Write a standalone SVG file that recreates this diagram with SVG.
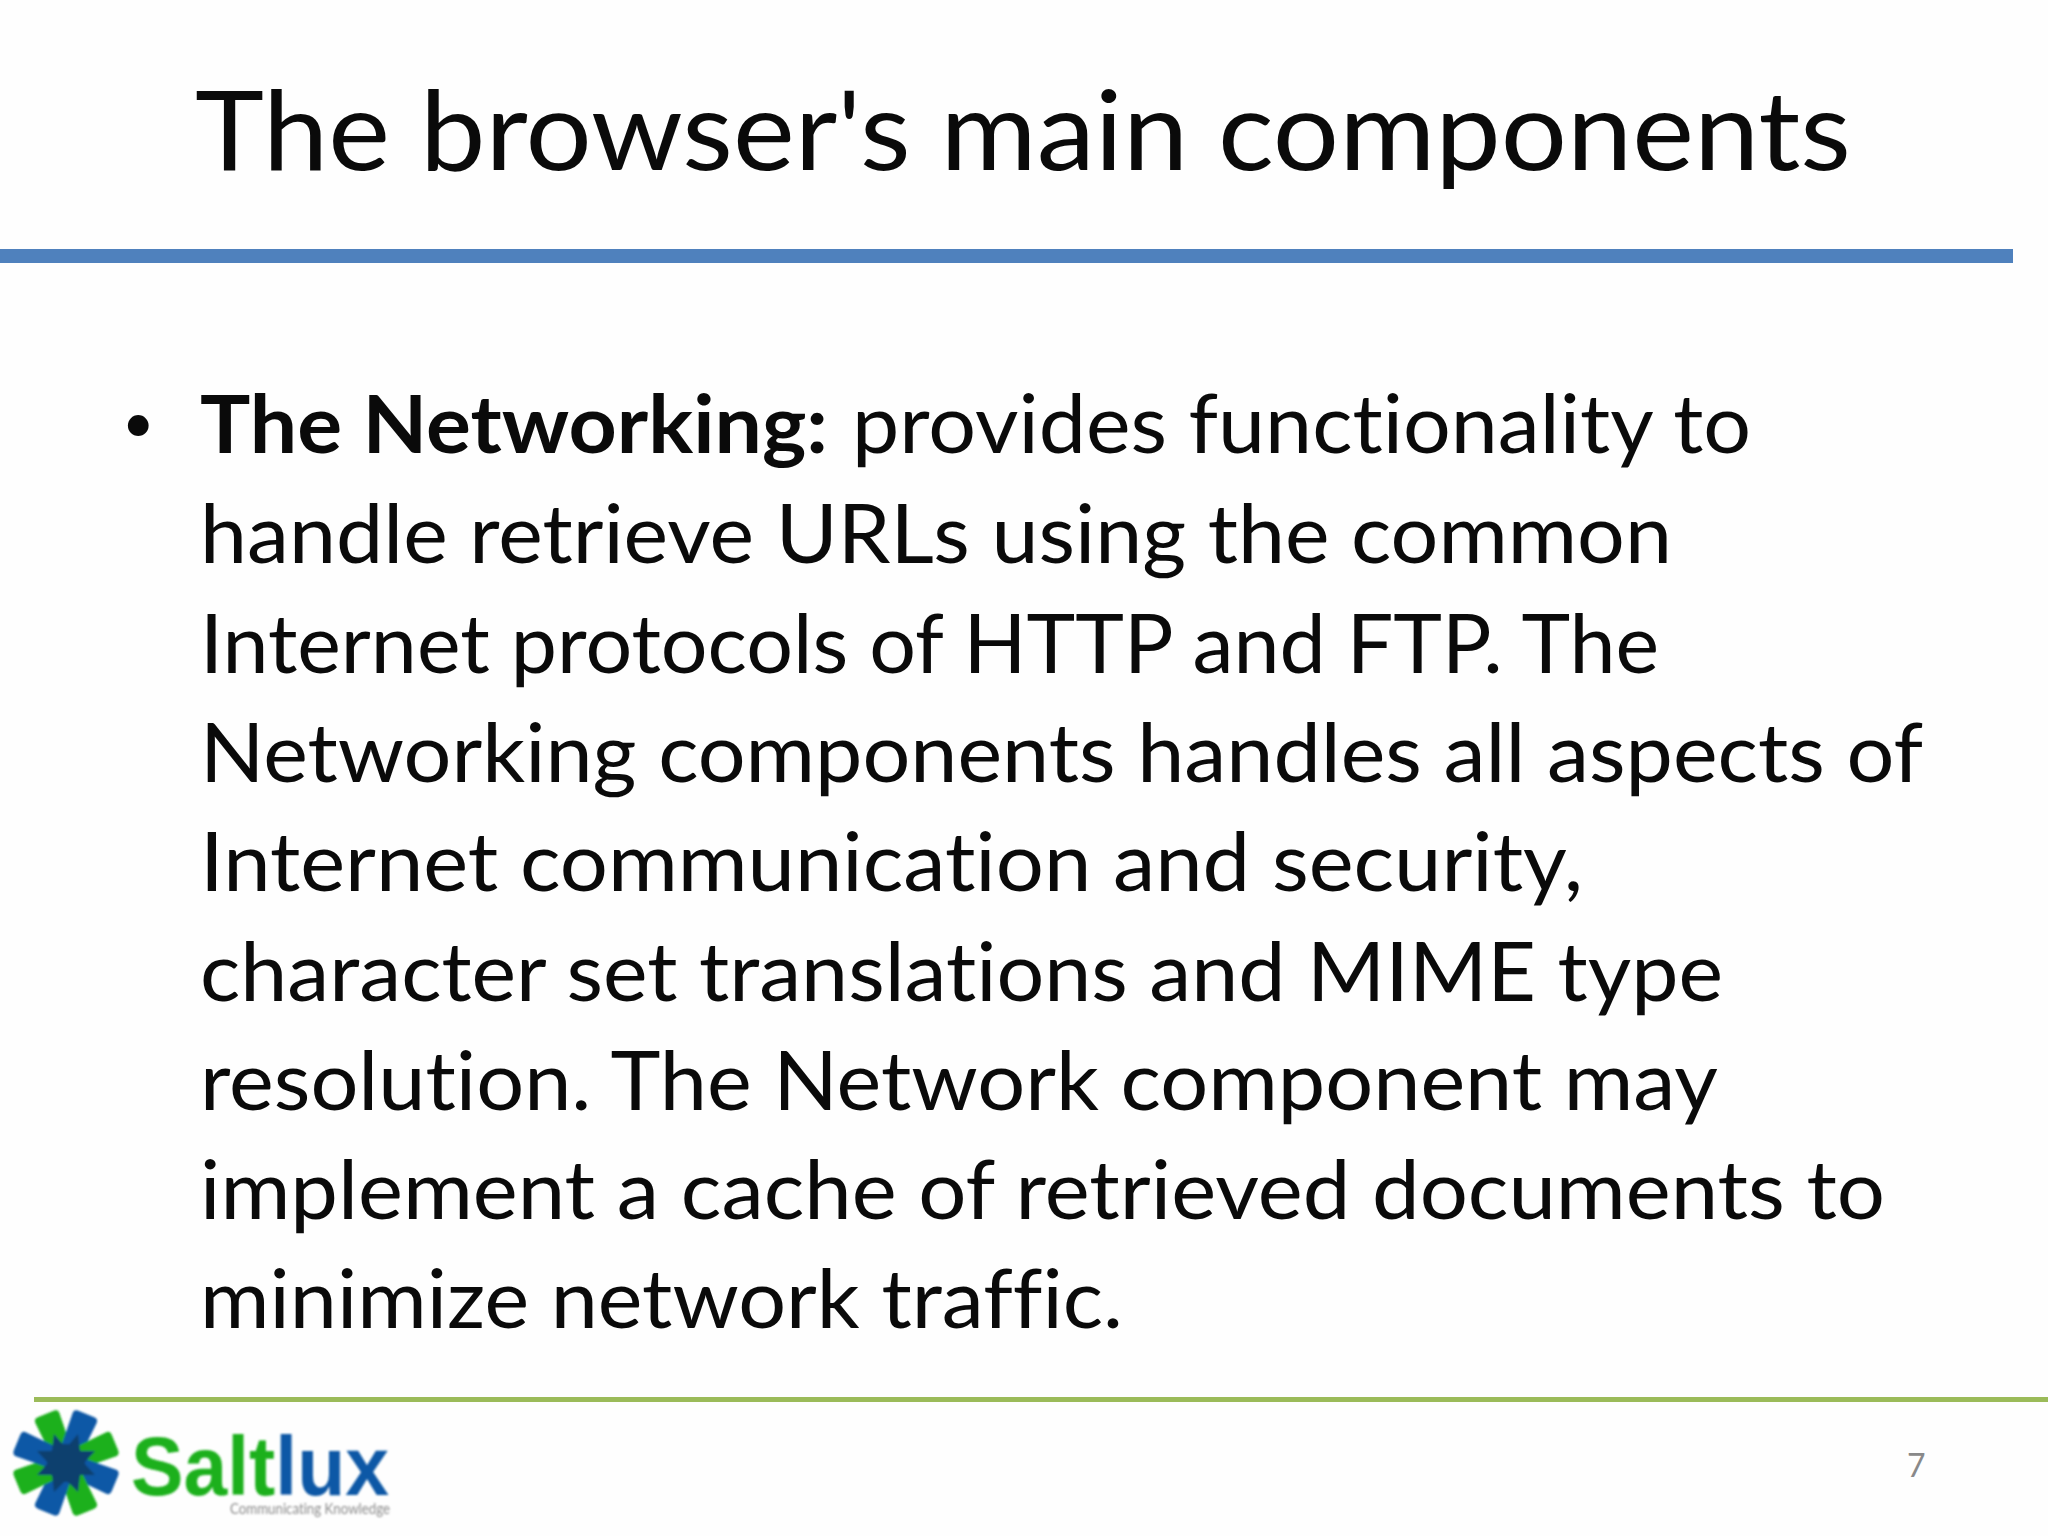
<svg xmlns="http://www.w3.org/2000/svg" width="2048" height="1536" viewBox="0 0 2048 1536">
<style>
text{font-family:"Lato","Open Sans","Liberation Sans",sans-serif;fill:#0a0a0a;font-variant-ligatures:none}
.b{font-size:81px}
.t{font-size:110px}
.g{fill:#1cb01c}
.u{fill:#0f58a6}
</style>
<defs>
<filter id="soft" x="-5%" y="-5%" width="110%" height="110%"><feGaussianBlur stdDeviation="0.8"/></filter>
<path id="petal" d="M-11,-15 L-13,-49 Q-13,-53 -8,-53 L8,-53 Q13,-53 13,-49 L11,-15 Z"/>
</defs>
<rect width="2048" height="1536" fill="#fefefe"/>
<text class="t" x="195" y="170" textLength="1656" lengthAdjust="spacingAndGlyphs">The browser's main components</text>
<rect x="0" y="249" width="2013" height="14" fill="#4f81bd"/>
<text x="122" y="442" font-size="56">•</text>
<text class="b" x="200" y="453" style="font-weight:700" textLength="628" lengthAdjust="spacingAndGlyphs">The Networking:</text>
<text class="b" x="852" y="453" textLength="899" lengthAdjust="spacingAndGlyphs">provides functionality to</text>
<text class="b" x="200" y="563" textLength="1472" lengthAdjust="spacingAndGlyphs">handle retrieve URLs using the common</text>
<text class="b" x="200" y="673" textLength="1459" lengthAdjust="spacingAndGlyphs">Internet protocols of HTTP and FTP. The</text>
<text class="b" x="200" y="782" textLength="1723" lengthAdjust="spacingAndGlyphs">Networking components handles all aspects of</text>
<text class="b" x="200" y="891" textLength="1383" lengthAdjust="spacingAndGlyphs">Internet communication and security,</text>
<text class="b" x="200" y="1001" textLength="1523" lengthAdjust="spacingAndGlyphs">character set translations and MIME type</text>
<text class="b" x="200" y="1110" textLength="1518" lengthAdjust="spacingAndGlyphs">resolution. The Network component may</text>
<text class="b" x="200" y="1219" textLength="1685" lengthAdjust="spacingAndGlyphs">implement a cache of retrieved documents to</text>
<text class="b" x="200" y="1328" textLength="923" lengthAdjust="spacingAndGlyphs">minimize network traffic.</text>
<rect x="34" y="1397" width="2014" height="5" fill="#9bbb59"/>
<g filter="url(#soft)">
<g transform="translate(66,1463)">
<use href="#petal" transform="rotate(-22.5)" fill="#1cb01c"/>
<use href="#petal" transform="rotate(22.5)" fill="#0f58a6"/>
<use href="#petal" transform="rotate(67.5)" fill="#1cb01c"/>
<use href="#petal" transform="rotate(112.5)" fill="#0f58a6"/>
<use href="#petal" transform="rotate(157.5)" fill="#1cb01c"/>
<use href="#petal" transform="rotate(202.5)" fill="#0f58a6"/>
<use href="#petal" transform="rotate(247.5)" fill="#1cb01c"/>
<use href="#petal" transform="rotate(292.5)" fill="#0f58a6"/>
<path d="M-12,-29 L0,-15 L12,-29 L14,-12 L29,-12 L18,0 L29,12 L14,12 L12,29 L0,17 L-12,29 L-14,12 L-29,12 L-18,0 L-29,-12 L-14,-12 Z" fill="#0b3f6e"/>
<circle r="19" fill="#0b3f6e"/>
</g>
<text x="131" y="1495" font-size="84" style="font-family:'Liberation Sans',sans-serif;font-weight:700" textLength="258" lengthAdjust="spacingAndGlyphs"><tspan class="g">Salt</tspan><tspan class="u">lux</tspan></text>
<text x="230" y="1514" font-size="15" style="fill:#8a8a8a" textLength="160" lengthAdjust="spacingAndGlyphs">Communicating Knowledge</text>
</g>
<text x="1907" y="1477" font-size="32" style="fill:#898989">7</text>
</svg>
